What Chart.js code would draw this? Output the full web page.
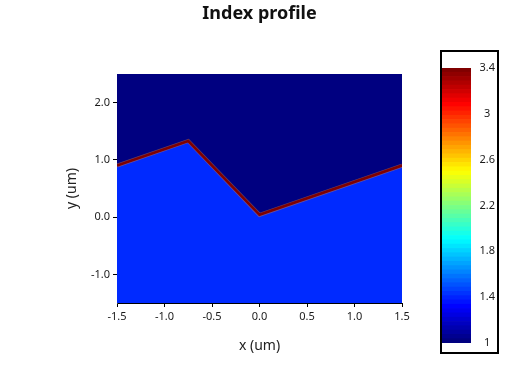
<!DOCTYPE html>
<html><head><meta charset="utf-8">
<script src="https://cdn.jsdelivr.net/npm/chart.js@4"></script>
<style>
html,body{margin:0;padding:0;background:#fff;}
#wrap{position:relative;width:519px;height:379px;overflow:hidden;background:#fff;}
#main{position:absolute;left:0;top:0;}
#cbox{position:absolute;left:440px;top:50px;width:55px;height:300px;border:2px solid #000;background:#fff;}
#cbar{position:absolute;left:0;top:0;}
</style></head>
<body><div id="wrap"><canvas id="main" width="519" height="379"></canvas>
<div id="cbox"><canvas id="cbar" width="55" height="300"></canvas></div></div>
<script>
// ---- data ----
const interfaceX = [-1.5, -0.75, 0.0, 1.5];
const interfaceY = [0.9, 1.33, 0.04, 0.9];
const claddingIndex = 1.0;
const substrateIndex = 1.4;
const filmIndex = 3.4;
const xTicks = [-1.5, -1.0, -0.5, 0.0, 0.5, 1.0, 1.5];
const yTicks = [-1.0, 0.0, 1.0, 2.0];
const cbTicks = [1, 1.4, 1.8, 2.2, 2.6, 3, 3.4];
const xRange = [-1.5, 1.5];
const yRange = [-1.5, 2.5];
const cbRange = [1, 3.4];
const cbLevels = 64;

function jet(v){
  const t = (v - cbRange[0]) / (cbRange[1] - cbRange[0]);
  const c = x => Math.round(255 * Math.min(1, Math.max(0, x)));
  return `rgb(${c(1.5-Math.abs(4*t-3))},${c(1.5-Math.abs(4*t-2))},${c(1.5-Math.abs(4*t-1))})`;
}
const pts = interfaceX.map((x,i)=>({x:x, y:interfaceY[i]}));
const FONT = "'Noto Sans', 'Open Sans', sans-serif";
const tickFont = {family: FONT, size: 11};

new Chart(document.getElementById('main'), {
  type: 'scatter',
  data: { datasets: [
    {data: pts, showLine: true, fill: false, borderColor: jet(filmIndex), borderWidth: 2.6, pointRadius: 0, tension: 0, order: 0, clip: 0},
    {data: pts, showLine: true, fill: false, borderColor: 'rgba(200,120,70,0.5)', borderWidth: 4, pointRadius: 0, tension: 0, order: 1, clip: 0},
    {data: pts, showLine: true, fill: 'start', backgroundColor: jet(substrateIndex), borderWidth: 0, pointRadius: 0, tension: 0, order: 2, clip: 0},
    {data: pts, showLine: true, fill: 'end', backgroundColor: jet(claddingIndex), borderWidth: 0, pointRadius: 0, tension: 0, order: 3, clip: 0}
  ]},
  options: {
    responsive: false, animation: false, events: [],
    layout: {padding: 0},
    plugins: {
      legend: {display: false}, tooltip: {enabled: false},
      title: {display: true, text: 'Index profile', color: '#111',
        font: {family: FONT, size: 18, weight: 'bold', lineHeight: 1.2},
        padding: {top: 3, bottom: 49.4}}
    },
    scales: {
      x: {type: 'linear', min: xRange[0], max: xRange[1],
        afterBuildTicks: s => { s.ticks = xTicks.map(v => ({value: v})); },
        afterFit: s => { s.height = 76; },
        grid: {drawOnChartArea: false, drawTicks: true, tickLength: 4, tickColor: '#000'},
        border: {display: true, color: '#000', width: 1},
        ticks: {font: tickFont, color: '#1a1a1a', padding: 3, maxRotation: 0, callback: v => Number(v).toFixed(1)},
        title: {display: true, text: 'x (um)', color: '#222', font: {family: FONT, size: 14}, padding: {top: 0, bottom: 24.6}}
      },
      y: {type: 'linear', min: yRange[0], max: yRange[1],
        afterBuildTicks: s => { s.ticks = yTicks.map(v => ({value: v})); },
        afterFit: s => { s.width = 117; },
        grid: {drawOnChartArea: false, drawTicks: true, tickLength: 4, tickColor: '#000'},
        border: {display: true, color: '#444', width: 1},
        ticks: {font: tickFont, color: '#1a1a1a', padding: 3, callback: v => Number(v).toFixed(1)},
        title: {display: true, text: 'y (um)', color: '#222', font: {family: FONT, size: 14}, padding: {top: 63.6, bottom: 0}}
      },
      yR: {type: 'linear', position: 'right', display: true, min: 0, max: 1,
        afterFit: s => { s.width = 117; },
        grid: {display: false, drawTicks: false}, border: {display: false}, ticks: {display: false}
      }
    }
  }
});

// ---- colorbar ----
const step = (cbRange[1] - cbRange[0]) / cbLevels;
const cbDatasets = [];
for (let i = 0; i < cbLevels; i++) {
  const lo = cbRange[0] + i * step;
  cbDatasets.push({
    data: [[lo, lo + step * 1.02]],
    backgroundColor: jet(cbRange[0] + i * (cbRange[1] - cbRange[0]) / (cbLevels - 1)),
    borderWidth: 0, grouped: false, barPercentage: 1, categoryPercentage: 1
  });
}
new Chart(document.getElementById('cbar'), {
  type: 'bar',
  data: {labels: [''], datasets: cbDatasets},
  options: {
    responsive: false, animation: false, events: [],
    layout: {padding: {top: 16, bottom: 9, left: 0, right: 0}},
    plugins: {legend: {display: false}, tooltip: {enabled: false}, title: {display: false}},
    scales: {
      x: {display: false},
      y: {type: 'linear', position: 'right', min: cbRange[0], max: cbRange[1],
        afterBuildTicks: s => { s.ticks = cbTicks.map(v => ({value: v})); },
        afterFit: s => { s.width = 26; s.paddingTop = 0; s.paddingBottom = 0; },
        grid: {display: false, drawTicks: false}, border: {display: false},
        ticks: {font: tickFont, color: '#1a1a1a', padding: 8.5, crossAlign: 'center', callback: v => String(v)}
      }
    }
  }
});
</script>
</body></html>
